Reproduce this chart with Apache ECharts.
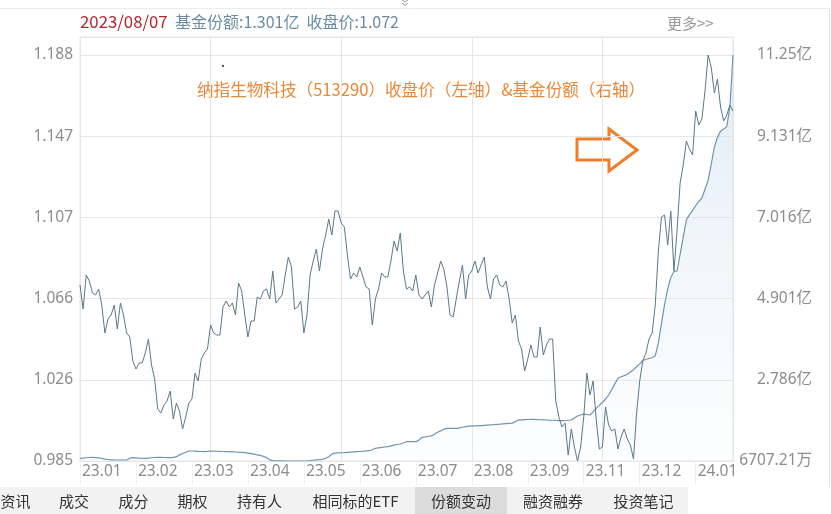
<!DOCTYPE html>
<html><head><meta charset="utf-8">
<script src="https://cdn.jsdelivr.net/npm/echarts@6/dist/echarts.min.js"></script>
<style>html,body{margin:0;padding:0;background:#fff}#c{width:831px;height:514px}</style>
</head><body><div id="c"></div>
<script>
const dates = [
'2023/01/03','2023/01/04','2023/01/05','2023/01/06','2023/01/09','2023/01/10','2023/01/11','2023/01/12','2023/01/13','2023/01/16','2023/01/17','2023/01/18','2023/01/19','2023/01/20','2023/01/26','2023/01/27','2023/01/30','2023/01/31',
'2023/02/01','2023/02/02','2023/02/03','2023/02/06','2023/02/07','2023/02/08','2023/02/09','2023/02/10','2023/02/13','2023/02/14','2023/02/15','2023/02/16','2023/02/17','2023/02/20','2023/02/21','2023/02/22','2023/02/23','2023/02/24',
'2023/03/01','2023/03/02','2023/03/03','2023/03/06','2023/03/07','2023/03/08','2023/03/09','2023/03/10','2023/03/13','2023/03/14','2023/03/15','2023/03/16','2023/03/17','2023/03/20','2023/03/21','2023/03/22','2023/03/23','2023/03/24',
'2023/04/03','2023/04/04','2023/04/06','2023/04/07','2023/04/10','2023/04/11','2023/04/12','2023/04/13','2023/04/14','2023/04/17','2023/04/18','2023/04/19','2023/04/20','2023/04/21','2023/04/24','2023/04/25','2023/04/26','2023/04/27',
'2023/05/04','2023/05/05','2023/05/08','2023/05/09','2023/05/10','2023/05/11','2023/05/12','2023/05/15','2023/05/16','2023/05/17','2023/05/18','2023/05/19','2023/05/22','2023/05/23','2023/05/24','2023/05/25','2023/05/26','2023/05/29',
'2023/06/01','2023/06/02','2023/06/05','2023/06/06','2023/06/07','2023/06/08','2023/06/09','2023/06/12','2023/06/13','2023/06/14','2023/06/15','2023/06/16','2023/06/19','2023/06/20','2023/06/21','2023/06/26','2023/06/27','2023/06/28',
'2023/07/03','2023/07/04','2023/07/05','2023/07/06','2023/07/07','2023/07/10','2023/07/11','2023/07/12','2023/07/13','2023/07/14','2023/07/17','2023/07/18','2023/07/19','2023/07/20','2023/07/21','2023/07/24','2023/07/25','2023/07/26',
'2023/08/01','2023/08/02','2023/08/03','2023/08/04','2023/08/07','2023/08/08','2023/08/09','2023/08/10','2023/08/11','2023/08/14','2023/08/15','2023/08/16','2023/08/17','2023/08/18','2023/08/21','2023/08/22','2023/08/23','2023/08/24',
'2023/09/01','2023/09/04','2023/09/06','2023/09/08','2023/09/12','2023/09/14','2023/09/19','2023/09/22','2023/09/27',
'2023/10/09','2023/10/11','2023/10/13','2023/10/16','2023/10/18','2023/10/20','2023/10/24','2023/10/26','2023/10/30',
'2023/11/01','2023/11/02','2023/11/03','2023/11/06','2023/11/07','2023/11/08','2023/11/09','2023/11/10','2023/11/13','2023/11/14','2023/11/15','2023/11/16','2023/11/17','2023/11/20','2023/11/21','2023/11/22','2023/11/23','2023/11/24',
'2023/12/01','2023/12/04','2023/12/05','2023/12/06','2023/12/07','2023/12/08','2023/12/11','2023/12/12','2023/12/13','2023/12/14','2023/12/15','2023/12/18','2023/12/19','2023/12/20','2023/12/21','2023/12/22','2023/12/25','2023/12/26',
'2024/01/02','2024/01/03','2024/01/04','2024/01/05','2024/01/08','2024/01/09','2024/01/10','2024/01/11','2024/01/12','2024/01/15','2024/01/16','2024/01/17','2024/01/18'
];
// 收盘价 (左轴)
const closePrice = [
1.073,1.061,1.078,1.075,1.069,1.068,1.071,1.063,1.049,1.056,
1.058,1.063,1.051,1.064,1.058,1.049,1.047,1.035,1.031,1.034,
1.034,1.039,1.046,1.033,1.026,1.011,1.009,1.013,1.015,1.020,
1.006,1.014,1.010,1.001,1.007,1.014,1.016,1.029,1.025,1.036,
1.039,1.041,1.053,1.049,1.048,1.048,1.062,1.065,1.062,1.064,
1.058,1.074,1.070,1.058,1.047,1.055,1.055,1.067,1.066,1.070,
1.071,1.066,1.080,1.064,1.066,1.068,1.078,1.087,1.082,1.061,
1.062,1.065,1.049,1.058,1.078,1.085,1.091,1.080,1.091,1.098,
1.106,1.098,1.110,1.110,1.104,1.102,1.088,1.076,1.079,1.077,
1.082,1.077,1.072,1.071,1.053,1.066,1.071,1.079,1.077,1.077,
1.085,1.095,1.090,1.099,1.080,1.071,1.072,1.070,1.078,1.068,
1.066,1.068,1.070,1.062,1.073,1.079,1.085,1.081,1.072,1.058,
1.057,1.066,1.075,1.083,1.066,1.078,1.080,1.085,1.079,1.083,
1.087,1.072,1.066,1.076,1.078,1.073,1.072,1.075,1.066,1.054,
1.058,1.045,1.041,1.030,1.036,1.043,1.037,1.037,1.052,1.038,
1.043,1.046,1.046,1.015,1.007,1.002,1.004,0.988,1.001,0.992,
0.985,0.992,1.007,1.029,1.018,1.025,1.006,0.991,0.992,1.012,
1.003,1.000,1.001,0.991,0.997,1.001,0.996,0.993,0.986,1.009,
1.025,1.035,1.039,1.046,1.049,1.063,1.090,1.107,1.108,1.093,
1.110,1.080,1.100,1.124,1.133,1.145,1.141,1.138,1.160,1.153,
1.156,1.170,1.188,1.182,1.169,1.176,1.162,1.155,1.158,1.163,1.160
];
// 基金份额 (亿份, 右轴)
const fundShares = [
0.741,0.745,0.755,0.762,0.767,0.760,0.750,0.735,0.718,0.710,
0.702,0.698,0.697,0.697,0.697,0.697,0.745,0.757,0.752,0.745,
0.741,0.741,0.748,0.755,0.762,0.767,0.765,0.762,0.760,0.757,
0.765,0.783,0.830,0.865,0.900,0.931,0.931,0.928,0.922,0.918,
0.913,0.920,0.931,0.928,0.925,0.921,0.918,0.915,0.913,0.910,
0.905,0.900,0.897,0.888,0.875,0.862,0.848,0.830,0.815,0.790,
0.760,0.700,0.679,0.675,0.673,0.672,0.6707,0.6707,0.6707,0.671,
0.671,0.671,0.671,0.672,0.680,0.690,0.700,0.705,0.715,0.740,
0.783,0.850,0.875,0.880,0.885,0.890,0.897,0.903,0.908,0.913,
0.918,0.925,0.932,0.939,0.965,1.001,1.015,1.025,1.035,1.043,
1.065,1.085,1.100,1.113,1.140,1.173,1.175,1.174,1.173,1.215,
1.288,1.300,1.315,1.325,1.370,1.420,1.455,1.500,1.522,1.522,
1.522,1.522,1.535,1.550,1.565,1.578,1.585,1.588,1.590,1.590,
1.598,1.605,1.612,1.618,1.627,1.633,1.640,1.646,1.652,1.658,
1.700,1.735,1.742,1.748,1.752,1.757,1.755,1.750,1.745,1.742,
1.739,1.735,1.732,1.728,1.724,1.720,1.725,1.732,1.739,1.790,
1.843,1.870,1.893,1.882,1.869,1.950,2.043,2.120,2.200,2.280,
2.390,2.530,2.680,2.825,2.865,2.895,2.929,2.990,3.050,3.127,
3.200,3.290,3.320,3.340,3.360,3.410,3.750,4.250,4.750,5.150,
5.450,5.602,5.620,6.050,6.500,6.950,7.080,7.200,7.320,7.430,
7.520,7.750,7.980,8.400,8.850,9.100,9.260,9.320,9.380,9.900,11.2465
];
const priceMin = 0.985, priceStep = 0.0406;
const shareMin = 0.670721, shareStep = 2.11505;
const tabNames = ['资讯','成交','成分','期权','持有人','相同标的ETF','份额变动','融资融券','投资笔记'];
const selectedTab = '份额变动';
const headerDate = '2023/08/07';
const headerInfo = '基金份额:1.301亿  收盘价:1.072';
const titleText = '纳指生物科技（513290）收盘价（左轴）&基金份额（右轴）';

const FONT = '"Noto Sans CJK SC","Noto Sans",sans-serif';
const NUMFONT = '"Noto Sans","Noto Sans CJK SC",sans-serif';
const chart = echarts.init(document.getElementById('c'), null, {renderer:'canvas'});

// plot box top at y=37; 1.188 / 11.25亿 line at y=55; bottom y=461
const ratio = 424/406;
const priceMax = priceMin + priceStep*5*ratio;
const shareMax = shareMin + shareStep*5*ratio;

const tabBounds = [[-20,43],[45,103],[105,162],[164,221],[223,296],[298,413],[415,507],[509,597],[599,688]];
const tabGraphics = [];
tabGraphics.push({type:'rect', shape:{x:0,y:487,width:688,height:27}, style:{fill:'#f2f2f2'}, silent:true});
tabNames.forEach((n,k)=>{
  const b = tabBounds[k];
  tabGraphics.push({type:'rect', shape:{x:b[0],y:487,width:b[1]-b[0],height:27},
    style:{fill: n===selectedTab ? '#dcdcdc' : '#f2f2f2'}, silent:true});
  tabGraphics.push({type:'text', x:(b[0]+b[1])/2 + (k===0?4:0), y:501,
    style:{text:n, fill:'#333', fontSize:15, fontFamily:FONT, align:'center', verticalAlign:'middle'}, silent:true});
});

const option = {
  animation:false,
  backgroundColor:'#fff',
  grid:{left:80, right:98, top:37, bottom:53, show:true, borderColor:'#e6e6e6', borderWidth:1},
  xAxis:{
    type:'category', data:dates, boundaryGap:false,
    axisLine:{show:true, lineStyle:{color:'#e6e6e6'}},
    axisTick:{show:true, interval:(i)=>i%18===0, length:24, lineStyle:{color:'#f0f0f0'}},
    axisLabel:{interval:(i)=>i%18===0, align:'left', padding:[0,0,0,2], margin:3,
      color:'#8c8c8c', fontSize:15.5, fontFamily:NUMFONT,
      formatter:(v)=>v.slice(2,4)+'.'+v.slice(5,7)},
    splitLine:{show:true, interval:(i)=>i%42===0, lineStyle:{color:'#e6e6e6'}}
  },
  yAxis:[{
    type:'value', min:priceMin, max:priceMax, interval:priceStep, position:'left',
    axisLine:{show:true, lineStyle:{color:'#e6e6e6'}}, axisTick:{show:false},
    axisLabel:{showMaxLabel:false, color:'#8c8c8c', fontSize:15.5, margin:7, fontFamily:NUMFONT,
      formatter:(v)=>v.toFixed(3)},
    splitLine:{show:true, lineStyle:{color:'#e6e6e6'}}
  },{
    type:'value', min:shareMin, max:shareMax, interval:shareStep, position:'right',
    axisLine:{show:true, lineStyle:{color:'#e6e6e6'}}, axisTick:{show:false},
    axisLabel:{showMaxLabel:false, color:'#8c8c8c', fontSize:15.5, margin:79, align:'right', fontFamily:NUMFONT,
      formatter:(v)=> v<1 ? (v*10000).toFixed(2)+'万' : v.toPrecision(4)+'亿'},
    splitLine:{show:false}
  }],
  series:[{
    name:'基金份额', type:'line', yAxisIndex:1, data:fundShares, symbol:'none', z:2,
    lineStyle:{color:'#6f95b0', width:1.2},
    areaStyle:{color:new echarts.graphic.LinearGradient(0,0,0,1,[
      {offset:0,color:'rgba(196,216,236,0.75)'},{offset:1,color:'rgba(230,239,248,0.15)'}])}
  },{
    name:'收盘价', type:'line', yAxisIndex:0, data:closePrice, symbol:'none', z:3,
    lineStyle:{color:'#5b7889', width:1}
  }],
  graphic:[
    {type:'line', shape:{x1:0,y1:8.5,x2:829,y2:8.5}, style:{stroke:'#ebebeb', lineWidth:1}, silent:true},
    {type:'line', shape:{x1:829.5,y1:8,x2:829.5,y2:487}, style:{stroke:'#e3e3e3', lineWidth:1}, silent:true},
    {type:'polyline', shape:{points:[[402,0],[405,2],[408,0]]}, style:{stroke:'#999', lineWidth:1, fill:null}, silent:true},
    {type:'polyline', shape:{points:[[402,3],[405,5.5],[408,3]]}, style:{stroke:'#999', lineWidth:1, fill:null}, silent:true},
    {type:'text', x:80, y:22, style:{text:headerDate, fill:'#b2272d', fontSize:16.8, fontFamily:FONT, verticalAlign:'middle'}, silent:true},
    {type:'text', x:175, y:22, style:{text:headerInfo, fill:'#6a8ba2', fontSize:16, fontFamily:FONT, verticalAlign:'middle'}, silent:true},
    {type:'text', x:667, y:23, style:{text:'更多>>', fill:'#9a9a9a', fontSize:15, fontFamily:FONT, verticalAlign:'middle'}, silent:true},
    {type:'text', x:197, y:90, style:{text:titleText, fill:'#e8883a', fontSize:16.6, fontFamily:FONT, verticalAlign:'middle'}, silent:true},
    {type:'polygon', shape:{points:[[577,139],[609,139],[609,129],[637,150],[609,171],[609,160],[577,160]]},
      style:{stroke:'#f07d2a', lineWidth:3, fill:'rgba(255,255,255,0)', lineJoin:'miter'}, silent:true},
    {type:'circle', shape:{cx:223,cy:66,r:1}, style:{fill:'#222'}, silent:true}
  ].concat(tabGraphics)
};
chart.setOption(option);
</script></body></html>
